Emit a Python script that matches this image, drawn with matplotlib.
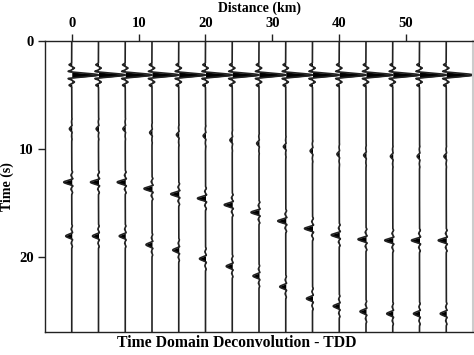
import numpy as np
import matplotlib
matplotlib.use("Agg")
import matplotlib.pyplot as plt

# ---- data ----
offsets = [0, 4, 8, 12, 16, 20, 24, 28, 32, 36, 40, 44, 48, 52, 56]          # km
t_direct = [3.15] * 15                                                      # s
t_weak = [8.15, 8.15, 8.15, 8.5, 8.7, 8.8, 9.2, 9.5, 9.8, 10.2, 10.5, 10.6, 10.7, 10.7, 10.7]
t_main = [13.1, 13.1, 13.1, 13.7, 14.2, 14.6, 15.2, 15.9, 16.7, 17.4, 18.0, 18.4, 18.5, 18.5, 18.5]
t_late = [18.1, 18.1, 18.1, 18.9, 19.4, 20.2, 20.9, 21.8, 22.8, 23.9, 24.6, 25.1, 25.3, 25.3, 25.3]
amp_direct = 4.0
amp_weak = -0.35
amp_main = -1.2
amp_late = -0.9

x_ticks = [0, 10, 20, 30, 40, 50]
y_ticks = [0, 10, 20]


def wavelet(tau, amp):
    w = np.exp(-(tau / 0.2) ** 2)
    w -= 0.2 * (np.exp(-((tau - 0.32) / 0.09) ** 2) + np.exp(-((tau + 0.32) / 0.09) ** 2))
    w += 0.1 * (np.exp(-((tau - 0.65) / 0.1) ** 2) + np.exp(-((tau + 0.65) / 0.1) ** 2))
    w -= 0.1 * (np.exp(-((tau - 0.95) / 0.1) ** 2) + np.exp(-((tau + 0.95) / 0.1) ** 2))
    return amp * w


fig = plt.figure(figsize=(4.74, 3.55), dpi=100)
ax = fig.add_axes([45 / 474, 1 - 332 / 355, 428 / 474, 291 / 355])

t = np.linspace(0, 27, 4000)
for i, x0 in enumerate(offsets):
    s = (wavelet(t - t_direct[i], amp_direct) + wavelet(t - t_weak[i], amp_weak)
         + wavelet(t - t_main[i], amp_main) + wavelet(t - t_late[i], amp_late))
    xs = x0 + s
    ax.fill_betweenx(t, x0, xs, color="black", lw=0)
    ax.plot(xs, t, color="#222222", lw=1.2)

ax.set_xlim(-4, 60)
ax.set_ylim(27, 0)

ax.xaxis.tick_top()
ax.xaxis.set_label_position("top")
ax.set_xticks(x_ticks)
ax.set_yticks(y_ticks)
ax.tick_params(axis="both", direction="out", length=5, width=1, colors="#222222",
               labelsize=10.5, pad=3)
for lab in ax.get_xticklabels() + ax.get_yticklabels():
    lab.set_fontfamily("Liberation Serif")
    lab.set_fontweight("bold")
    lab.set_color("black")

ax.set_xlabel("Distance (km)", fontfamily="Liberation Serif", fontweight="bold",
              fontsize=10, labelpad=4)
ax.set_ylabel("Time (s)", fontfamily="Liberation Serif", fontweight="bold",
              fontsize=10)
ax.yaxis.set_label_coords(-0.072, 0.5)

for side in ["left", "top", "bottom"]:
    ax.spines[side].set_color("#222222")
    ax.spines[side].set_linewidth(1.0)
ax.spines["right"].set_color("#cccccc")
ax.spines["right"].set_linewidth(1.5)

fig.text(0.5, 0.01, "Time Domain Deconvolution - TDD", ha="center", va="bottom",
         fontfamily="Liberation Serif", fontweight="bold", fontsize=11.3)

fig.savefig("out.png", dpi=100)
